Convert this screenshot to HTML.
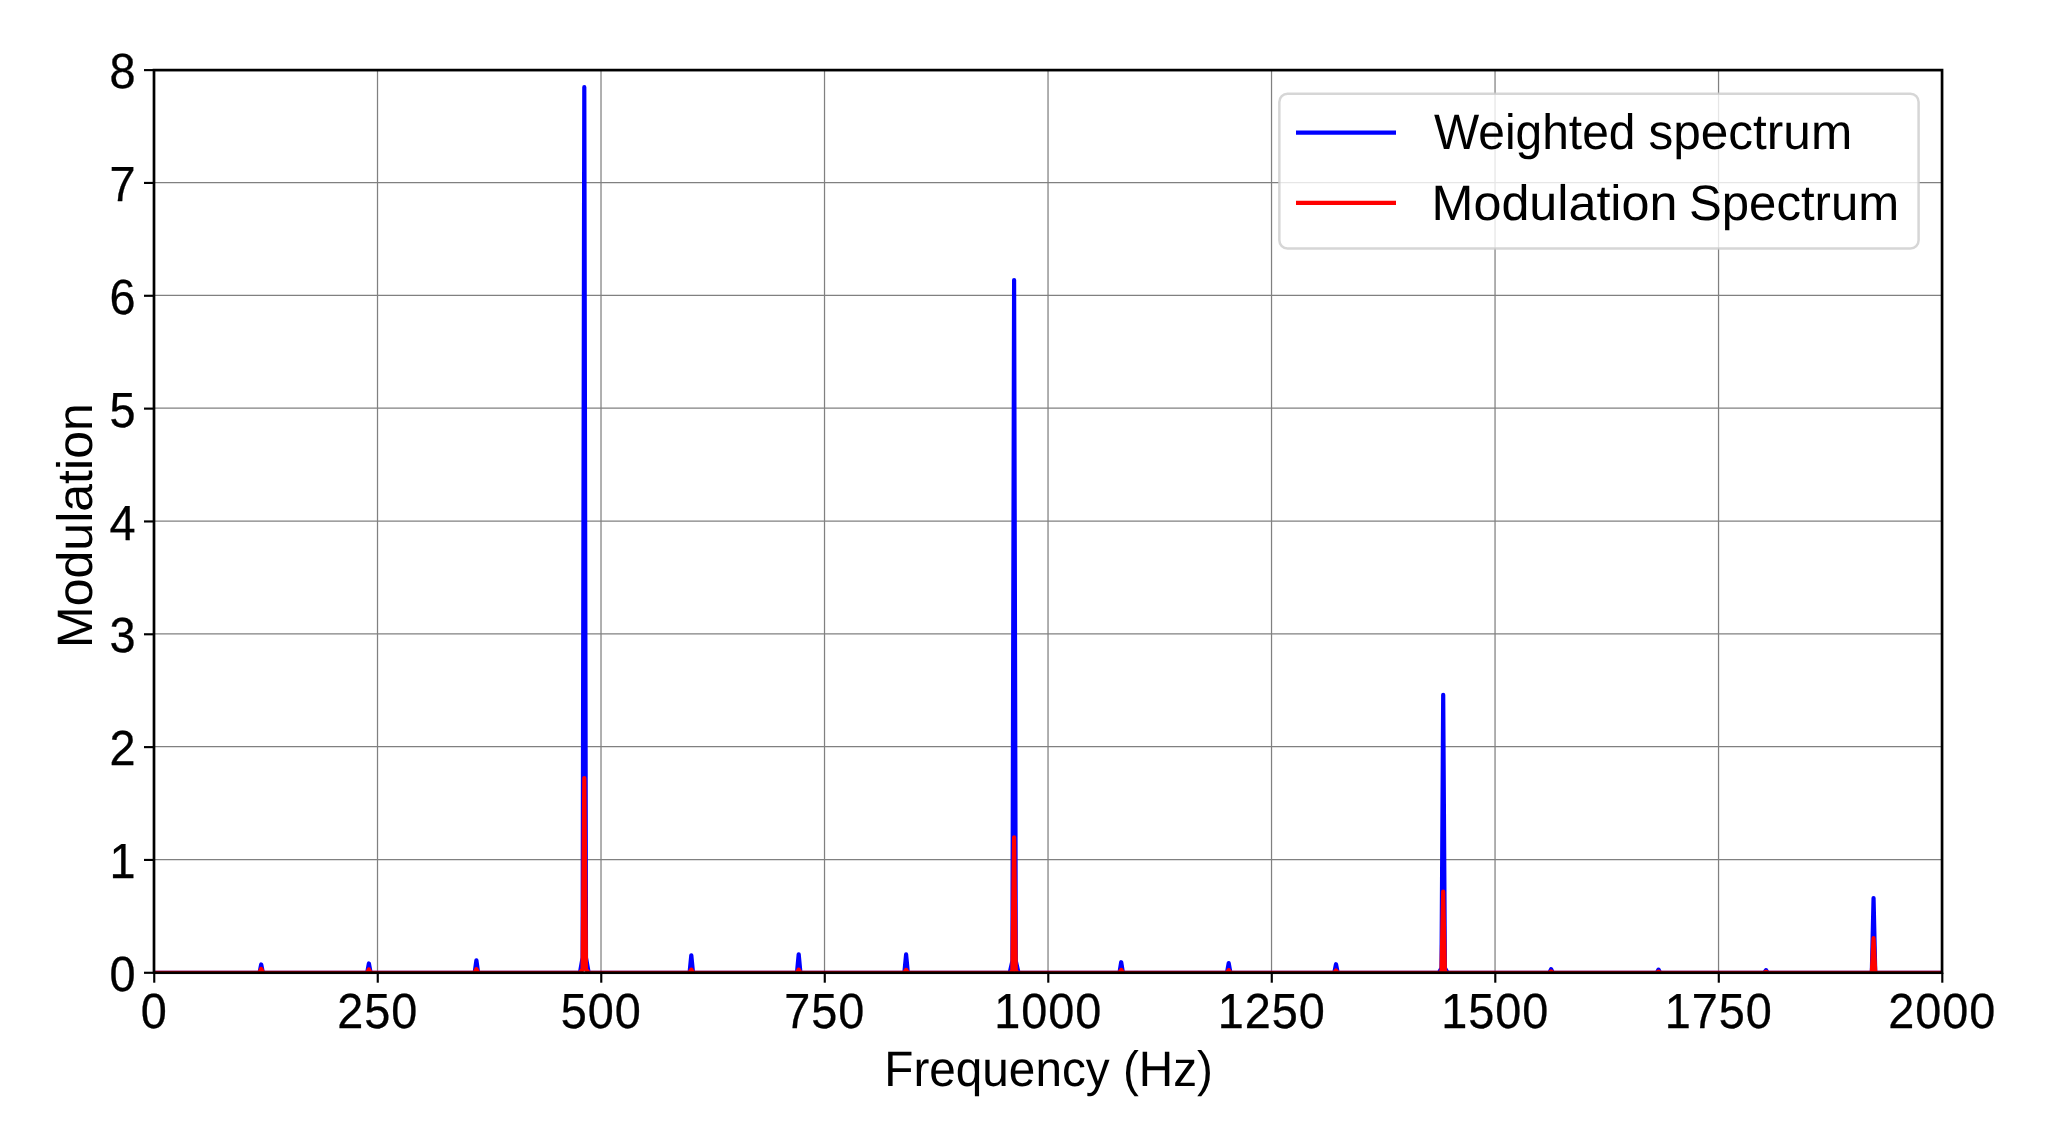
<!DOCTYPE html>
<html lang="en">
<head>
<meta charset="utf-8">
<title>Modulation spectrum</title>
<style>
html,body{margin:0;padding:0;background:#fff;}
body{width:2048px;height:1148px;overflow:hidden;}
svg{display:block;}
text{font-family:"Liberation Sans", sans-serif;fill:#000;text-rendering:geometricPrecision;}
.tick{font-size:49.3px;letter-spacing:1px;stroke:#000;stroke-width:0.3px;}
.lab{font-size:49.8px;}
.leg{font-size:49.8px;}
</style>
</head>
<body>
<svg width="2048" height="1148" viewBox="0 0 2048 1148">
<rect x="0" y="0" width="2048" height="1148" fill="#ffffff"/>
<defs><clipPath id="ax"><rect x="154.00" y="70.10" width="1788.05" height="902.60"/></clipPath></defs>
<g stroke="#808080" stroke-width="1.25" fill="none">
<line x1="377.51" y1="70.10" x2="377.51" y2="972.70"/>
<line x1="601.01" y1="70.10" x2="601.01" y2="972.70"/>
<line x1="824.52" y1="70.10" x2="824.52" y2="972.70"/>
<line x1="1048.03" y1="70.10" x2="1048.03" y2="972.70"/>
<line x1="1271.53" y1="70.10" x2="1271.53" y2="972.70"/>
<line x1="1495.04" y1="70.10" x2="1495.04" y2="972.70"/>
<line x1="1718.54" y1="70.10" x2="1718.54" y2="972.70"/>
<line x1="154.00" y1="859.50" x2="1942.05" y2="859.50"/>
<line x1="154.00" y1="746.66" x2="1942.05" y2="746.66"/>
<line x1="154.00" y1="633.83" x2="1942.05" y2="633.83"/>
<line x1="154.00" y1="521.00" x2="1942.05" y2="521.00"/>
<line x1="154.00" y1="408.17" x2="1942.05" y2="408.17"/>
<line x1="154.00" y1="295.33" x2="1942.05" y2="295.33"/>
<line x1="154.00" y1="182.50" x2="1942.05" y2="182.50"/>
</g>
<g stroke="#000" stroke-width="2.15" fill="none">
<line x1="154.25" y1="972.70" x2="154.25" y2="982.70"/>
<line x1="377.76" y1="972.70" x2="377.76" y2="982.70"/>
<line x1="601.26" y1="972.70" x2="601.26" y2="982.70"/>
<line x1="824.77" y1="972.70" x2="824.77" y2="982.70"/>
<line x1="1048.28" y1="972.70" x2="1048.28" y2="982.70"/>
<line x1="1271.78" y1="972.70" x2="1271.78" y2="982.70"/>
<line x1="1495.29" y1="972.70" x2="1495.29" y2="982.70"/>
<line x1="1718.79" y1="972.70" x2="1718.79" y2="982.70"/>
<line x1="1942.30" y1="972.70" x2="1942.30" y2="982.70"/>
<line x1="144.00" y1="972.78" x2="154.00" y2="972.78"/>
<line x1="144.00" y1="859.95" x2="154.00" y2="859.95"/>
<line x1="144.00" y1="747.12" x2="154.00" y2="747.12"/>
<line x1="144.00" y1="634.28" x2="154.00" y2="634.28"/>
<line x1="144.00" y1="521.45" x2="154.00" y2="521.45"/>
<line x1="144.00" y1="408.62" x2="154.00" y2="408.62"/>
<line x1="144.00" y1="295.78" x2="154.00" y2="295.78"/>
<line x1="144.00" y1="182.95" x2="154.00" y2="182.95"/>
<line x1="144.00" y1="70.12" x2="154.00" y2="70.12"/>
</g>
<g clip-path="url(#ax)" fill="none" stroke-width="4.2" stroke-linejoin="round" stroke-linecap="round">
<polyline stroke="#0000ff" points="149.00,972.80 257.80,972.80 259.50,972.56 261.20,964.50 262.90,972.56 264.60,972.80 365.50,972.80 367.20,972.54 368.90,963.50 370.60,972.54 372.30,972.80 473.00,972.80 474.70,972.49 476.40,960.30 478.10,972.49 479.80,972.80 579.90,972.80 582.60,957.65 584.30,87.20 586.00,957.65 588.70,972.80 687.90,972.80 689.60,972.40 691.30,955.30 693.00,972.40 694.70,972.80 795.30,972.80 797.00,972.39 798.70,954.30 800.40,972.39 802.10,972.80 902.70,972.80 904.40,972.39 906.10,954.40 907.80,972.39 909.50,972.80 1009.70,972.80 1012.40,960.93 1014.10,280.10 1015.80,960.93 1018.50,972.80 1117.80,972.80 1119.50,972.52 1121.20,962.20 1122.90,972.52 1124.60,972.80 1225.30,972.80 1227.00,972.54 1228.70,963.10 1230.40,972.54 1232.10,972.80 1332.60,972.80 1334.30,972.56 1336.00,964.20 1337.70,972.56 1339.40,972.80 1438.80,972.80 1441.50,967.98 1443.20,694.80 1444.90,967.98 1447.60,972.80 1547.70,972.80 1549.40,972.64 1551.10,969.20 1552.80,972.64 1554.50,972.80 1655.10,972.80 1656.80,972.65 1658.50,969.60 1660.20,972.65 1661.90,972.80 1762.60,972.80 1764.30,972.66 1766.00,970.10 1767.70,972.66 1769.40,972.80 1870.15,972.80 1871.85,971.43 1873.55,898.10 1875.25,971.43 1876.95,972.80 1947.05,972.80"/>
<polyline stroke="#ff0000" points="149.00,972.80 257.80,972.80 259.50,972.64 261.20,968.90 262.90,972.64 264.60,972.80 365.50,972.80 367.20,972.64 368.90,969.40 370.60,972.64 372.30,972.80 473.00,972.80 474.70,972.64 476.40,969.10 478.10,972.64 479.80,972.80 579.90,972.80 582.60,969.39 584.30,778.00 586.00,969.39 588.70,972.80 687.90,972.80 689.60,972.65 691.30,969.60 693.00,972.65 694.70,972.80 795.30,972.80 797.00,972.65 798.70,969.60 800.40,972.65 802.10,972.80 902.70,972.80 904.40,972.65 906.10,969.90 907.80,972.65 909.50,972.80 1010.70,972.80 1012.40,970.40 1014.10,837.40 1015.80,970.40 1017.50,972.80 1117.80,972.80 1119.50,972.65 1121.20,969.90 1122.90,972.65 1124.60,972.80 1225.30,972.80 1227.00,972.66 1228.70,970.10 1230.40,972.66 1232.10,972.80 1332.60,972.80 1334.30,972.66 1336.00,970.40 1337.70,972.66 1339.40,972.80 1439.80,972.80 1441.50,971.32 1443.20,891.60 1444.90,971.32 1446.60,972.80 1547.70,972.80 1549.40,972.68 1551.10,971.40 1552.80,972.68 1554.50,972.80 1655.10,972.80 1656.80,972.68 1658.50,971.60 1660.20,972.68 1661.90,972.80 1762.60,972.80 1764.30,972.68 1766.00,971.70 1767.70,972.68 1769.40,972.80 1870.15,972.80 1871.85,972.11 1873.55,938.00 1875.25,972.11 1876.95,972.80 1947.05,972.80"/>
</g>
<rect x="154.00" y="70.10" width="1788.05" height="902.60" fill="none" stroke="#000" stroke-width="2.7"/>
<text class="tick" text-anchor="middle" transform="translate(154.20,1027.70) scale(0.9500,1)">0</text>
<text class="tick" text-anchor="middle" transform="translate(377.71,1027.70) scale(0.9500,1)">250</text>
<text class="tick" text-anchor="middle" transform="translate(601.21,1027.70) scale(0.9500,1)">500</text>
<text class="tick" text-anchor="middle" transform="translate(824.72,1027.70) scale(0.9500,1)">750</text>
<text class="tick" text-anchor="middle" transform="translate(1048.23,1027.70) scale(0.9500,1)">1000</text>
<text class="tick" text-anchor="middle" transform="translate(1271.73,1027.70) scale(0.9500,1)">1250</text>
<text class="tick" text-anchor="middle" transform="translate(1495.24,1027.70) scale(0.9500,1)">1500</text>
<text class="tick" text-anchor="middle" transform="translate(1718.74,1027.70) scale(0.9500,1)">1750</text>
<text class="tick" text-anchor="middle" transform="translate(1942.25,1027.70) scale(0.9500,1)">2000</text>
<text class="tick" text-anchor="end" transform="translate(136.60,990.85) scale(0.9500,1)">0</text>
<text class="tick" text-anchor="end" transform="translate(136.60,878.02) scale(0.9500,1)">1</text>
<text class="tick" text-anchor="end" transform="translate(136.60,765.20) scale(0.9500,1)">2</text>
<text class="tick" text-anchor="end" transform="translate(136.60,652.38) scale(0.9500,1)">3</text>
<text class="tick" text-anchor="end" transform="translate(136.60,539.55) scale(0.9500,1)">4</text>
<text class="tick" text-anchor="end" transform="translate(136.60,426.73) scale(0.9500,1)">5</text>
<text class="tick" text-anchor="end" transform="translate(136.60,313.90) scale(0.9500,1)">6</text>
<text class="tick" text-anchor="end" transform="translate(136.60,201.08) scale(0.9500,1)">7</text>
<text class="tick" text-anchor="end" transform="translate(136.60,88.25) scale(0.9500,1)">8</text>
<text class="lab" text-anchor="middle" transform="translate(1048.60,1086.00) scale(0.9580,1)">Frequency (Hz)</text>
<text class="lab" text-anchor="middle" transform="translate(92.40,525.60) rotate(-90) scale(1.0050,1)">Modulation</text>
<rect x="1279.35" y="93.75" width="639.25" height="154.7" rx="8.2" ry="8.2" fill="#ffffff" fill-opacity="0.8" stroke="#cccccc" stroke-opacity="0.8" stroke-width="2.5"/>
<line x1="1296" y1="132.7" x2="1396" y2="132.7" stroke="#0000ff" stroke-width="4.2"/>
<line x1="1296" y1="202.8" x2="1396" y2="202.8" stroke="#ff0000" stroke-width="4.2"/>
<text class="leg" text-anchor="start" transform="translate(1434.00,149.00) scale(0.9615,1)">Weighted</text>
<text class="leg" text-anchor="start" transform="translate(1648.40,149.00) scale(0.9950,1)">spectrum</text>
<text class="leg" text-anchor="start" transform="translate(1431.55,220.00) scale(1.0094,1)">Modulation</text>
<text class="leg" text-anchor="start" transform="translate(1689.00,220.00) scale(0.9863,1)">Spectrum</text>
</svg>
</body>
</html>
